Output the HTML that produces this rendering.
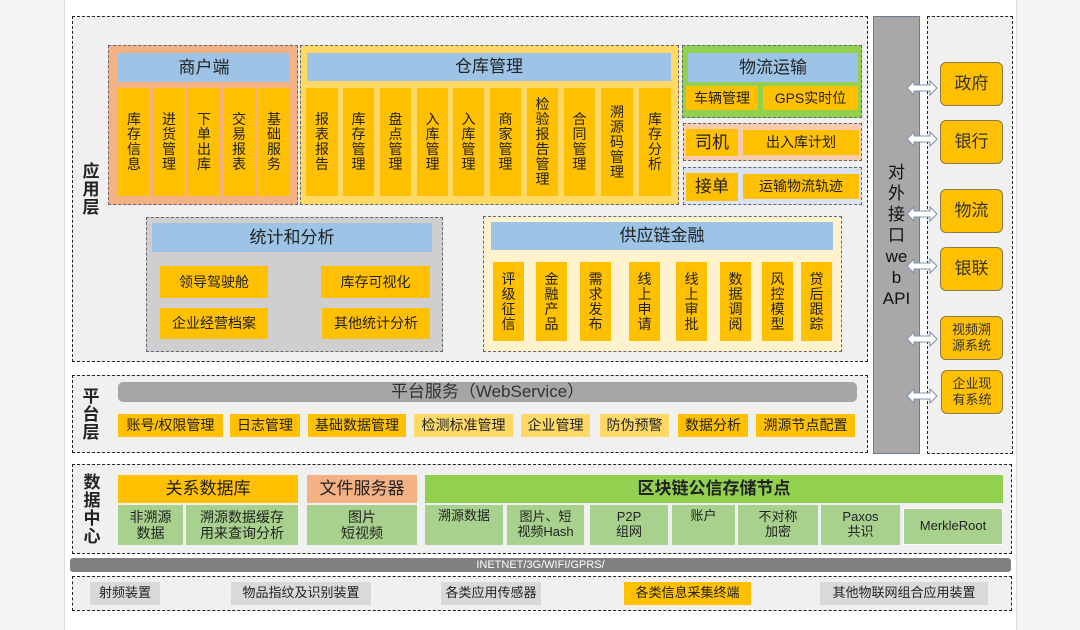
<!DOCTYPE html>
<html><head><meta charset="utf-8"><style>
*{margin:0;padding:0;box-sizing:border-box}
body{width:1080px;height:630px;background:#f4f5f7;position:relative;overflow:hidden;font-family:"Liberation Sans","Noto Sans CJK SC",sans-serif;color:#222}
div{position:absolute}
.c{display:flex;align-items:center;justify-content:center;text-align:center;line-height:1.15}
.d{border:1.5px dashed #222;background:#f0f0f0}
.g{border:1px dashed #667}
.y{background:#ffc000}
.ly{background:#ffd966}
.bl{background:#9dc3e6}
.gr{background:#a9d18e}
.v{font-size:14px;line-height:15px;padding:0 8px;word-break:break-all}
.f14{font-size:14px}
.f13{font-size:13px}
.f16{font-size:17px}
.f17{font-size:17px;font-weight:bold}
.lab{font-size:17px;font-weight:bold;width:20px;line-height:18px;text-align:center}
.ext{background:#ffc000;border:1px solid #8a7a4a;border-radius:6px;font-size:17px;color:#333}
.gray{background:#d9d9d9}
</style></head><body>
<div style="left:64px;top:0;width:953px;height:630px;background:#fff;border-left:1px solid #ddd;border-right:1px solid #ddd"></div>

<!-- App layer -->
<div class="d" style="left:72px;top:16px;width:796px;height:346px"></div>
<div class="lab" style="left:81px;top:163px">应<br>用<br>层</div>

<!-- 商户端 -->
<div class="g" style="left:108px;top:45px;width:190px;height:160px;background:#f4b183"></div>
<div class="c bl f16" style="left:118px;top:53px;width:172px;height:29px">商户端</div>
<div class="c y v" style="left:118px;top:88px;width:32px;height:108px">库存信息</div>
<div class="c y v" style="left:153px;top:88px;width:32px;height:108px">进货管理</div>
<div class="c y v" style="left:188px;top:88px;width:32px;height:108px">下单出库</div>
<div class="c y v" style="left:223px;top:88px;width:32px;height:108px">交易报表</div>
<div class="c y v" style="left:258px;top:88px;width:32px;height:108px">基础服务</div>

<!-- 仓库管理 -->
<div class="g" style="left:300px;top:45px;width:379px;height:160px;background:#ffd966"></div>
<div class="c bl f16" style="left:307px;top:53px;width:364px;height:28px">仓库管理</div>
<div class="c y v" style="left:306px;top:88px;width:32px;height:108px">报表报告</div>
<div class="c y v" style="left:343px;top:88px;width:31px;height:108px">库存管理</div>
<div class="c y v" style="left:380px;top:88px;width:31px;height:108px">盘点管理</div>
<div class="c y v" style="left:417px;top:88px;width:31px;height:108px">入库管理</div>
<div class="c y v" style="left:453px;top:88px;width:31px;height:108px">入库管理</div>
<div class="c y v" style="left:490px;top:88px;width:31px;height:108px">商家管理</div>
<div class="c y v" style="left:527px;top:88px;width:31px;height:108px">检验报告管理</div>
<div class="c y v" style="left:564px;top:88px;width:31px;height:108px">合同管理</div>
<div class="c y v" style="left:601px;top:88px;width:32px;height:108px">溯源码管理</div>
<div class="c y v" style="left:639px;top:88px;width:32px;height:108px">库存分析</div>

<!-- 物流运输 -->
<div class="g" style="left:682px;top:45px;width:180px;height:73px;background:#92d050"></div>
<div class="c bl f16" style="left:688px;top:53px;width:170px;height:29px">物流运输</div>
<div class="c y f14" style="left:686px;top:86px;width:72px;height:24px">车辆管理</div>
<div class="c y f14" style="left:763px;top:86px;width:95px;height:24px">GPS实时位</div>
<div class="g" style="left:683px;top:123px;width:179px;height:38px;background:#f8cbad"></div>
<div class="c y" style="left:686px;top:129px;width:52px;height:27px;font-size:17px">司机</div>
<div class="c y f14" style="left:743px;top:130px;width:116px;height:25px">出入库计划</div>
<div class="g" style="left:683px;top:167px;width:179px;height:38px;background:#dae3f3"></div>
<div class="c y" style="left:686px;top:173px;width:52px;height:28px;font-size:17px">接单</div>
<div class="c y f14" style="left:743px;top:174px;width:116px;height:25px">运输物流轨迹</div>

<!-- 统计和分析 -->
<div class="g" style="left:146px;top:217px;width:297px;height:135px;background:#d0cece"></div>
<div class="c bl f16" style="left:152px;top:223px;width:280px;height:29px">统计和分析</div>
<div class="c y f14" style="left:160px;top:266px;width:108px;height:32px">领导驾驶舱</div>
<div class="c y f14" style="left:321px;top:266px;width:109px;height:32px">库存可视化</div>
<div class="c y f14" style="left:160px;top:308px;width:108px;height:31px">企业经营档案</div>
<div class="c y f14" style="left:322px;top:308px;width:108px;height:31px">其他统计分析</div>

<!-- 供应链金融 -->
<div class="g" style="left:483px;top:216px;width:359px;height:136px;background:#fff2cc"></div>
<div class="c bl f16" style="left:491px;top:222px;width:342px;height:28px">供应链金融</div>
<div class="c y v" style="left:493px;top:262px;width:31px;height:79px">评级征信</div>
<div class="c y v" style="left:536px;top:262px;width:31px;height:79px">金融产品</div>
<div class="c y v" style="left:580px;top:262px;width:31px;height:79px">需求发布</div>
<div class="c y v" style="left:629px;top:262px;width:31px;height:79px">线上申请</div>
<div class="c y v" style="left:676px;top:262px;width:31px;height:79px">线上审批</div>
<div class="c y v" style="left:720px;top:262px;width:31px;height:79px">数据调阅</div>
<div class="c y v" style="left:762px;top:262px;width:31px;height:79px">风控模型</div>
<div class="c y v" style="left:801px;top:262px;width:31px;height:79px">贷后跟踪</div>

<!-- Platform -->
<div class="d" style="left:72px;top:375px;width:796px;height:78px"></div>
<div class="lab" style="left:81px;top:388px">平<br>台<br>层</div>
<div class="c" style="left:118px;top:382px;width:739px;height:20px;background:#a6a6a6;border-radius:5px;font-size:17px;color:#333">平台服务（WebService）</div>
<div class="c y f14" style="left:118px;top:414px;width:105px;height:23px">账号/权限管理</div>
<div class="c y f14" style="left:230px;top:414px;width:70px;height:23px">日志管理</div>
<div class="c y f14" style="left:308px;top:414px;width:98px;height:23px">基础数据管理</div>
<div class="c ly f14" style="left:414px;top:414px;width:99px;height:23px">检测标准管理</div>
<div class="c ly f14" style="left:521px;top:414px;width:69px;height:23px">企业管理</div>
<div class="c ly f14" style="left:600px;top:414px;width:69px;height:23px">防伪预警</div>
<div class="c y f14" style="left:678px;top:414px;width:70px;height:23px">数据分析</div>
<div class="c y f14" style="left:756px;top:414px;width:99px;height:23px">溯源节点配置</div>

<!-- API -->
<div class="c" style="left:873px;top:16px;width:47px;height:438px;background:#a9a7a8;border:1px solid #6b7a99;font-size:17px;line-height:21px;color:#111">对<br>外<br>接<br>口<br>we<br>b<br>API</div>
<div class="d" style="left:927px;top:16px;width:86px;height:438px"></div>
<div class="c ext" style="left:940px;top:62px;width:63px;height:44px">政府</div>
<div class="c ext" style="left:940px;top:120px;width:63px;height:44px">银行</div>
<div class="c ext" style="left:940px;top:189px;width:63px;height:44px">物流</div>
<div class="c ext" style="left:940px;top:247px;width:63px;height:44px">银联</div>
<div class="c ext" style="left:940px;top:316px;width:63px;height:44px;font-size:13px;line-height:16px">视频溯<br>源系统</div>
<div class="c ext" style="left:941px;top:370px;width:62px;height:44px;font-size:13px;line-height:16px">企业现<br>有系统</div>
<svg style="position:absolute;left:905px;top:0" width="36" height="460">
<g fill="#fff" stroke="#7f8fb0" stroke-width="1">
<path d="M2 88 L9 81 L9 85 L25 85 L25 81 L32 88 L25 95 L25 91 L9 91 L9 95 Z"/>
<path d="M2 139 L9 132 L9 136 L25 136 L25 132 L32 139 L25 146 L25 142 L9 142 L9 146 Z"/>
<path d="M2 214 L9 207 L9 211 L25 211 L25 207 L32 214 L25 221 L25 217 L9 217 L9 221 Z"/>
<path d="M2 266 L9 259 L9 263 L25 263 L25 259 L32 266 L25 273 L25 269 L9 269 L9 273 Z"/>
<path d="M2 339 L9 332 L9 336 L25 336 L25 332 L32 339 L25 346 L25 342 L9 342 L9 346 Z"/>
<path d="M2 396 L9 389 L9 393 L25 393 L25 389 L32 396 L25 403 L25 399 L9 399 L9 403 Z"/>
</g></svg>

<!-- Data center -->
<div class="d" style="left:72px;top:464px;width:940px;height:90px"></div>
<div class="lab" style="left:82px;top:474px">数<br>据<br>中<br>心</div>
<div class="c y" style="left:118px;top:475px;width:180px;height:28px;font-size:17px">关系数据库</div>
<div class="c gr f14" style="left:118px;top:505px;width:65px;height:40px">非溯源<br>数据</div>
<div class="c gr f14" style="left:186px;top:505px;width:112px;height:40px">溯源数据缓存<br>用来查询分析</div>
<div class="c" style="left:307px;top:475px;width:110px;height:28px;font-size:17px;background:#f4b183">文件服务器</div>
<div class="c gr f14" style="left:307px;top:505px;width:110px;height:40px">图片<br>短视频</div>
<div class="c f17" style="left:425px;top:475px;width:578px;height:28px;background:#92d050">区块链公信存储节点</div>
<div class="c gr f13" style="left:425px;top:505px;width:78px;height:40px;align-items:flex-start;padding-top:4px">溯源数据</div>
<div class="c gr f13" style="left:507px;top:505px;width:77px;height:40px">图片、短<br>视频Hash</div>
<div class="c gr f13" style="left:590px;top:505px;width:78px;height:40px">P2P<br>组网</div>
<div class="c gr f13" style="left:672px;top:505px;width:63px;height:40px;align-items:flex-start;padding-top:4px">账户</div>
<div class="c gr f13" style="left:738px;top:505px;width:80px;height:40px">不对称<br>加密</div>
<div class="c gr f13" style="left:821px;top:505px;width:79px;height:40px">Paxos<br>共识</div>
<div class="c gr f13" style="left:903px;top:508px;width:100px;height:37px;border:1px solid #fff">MerkleRoot</div>

<div style="left:70px;top:558px;width:941px;height:14px;background:#808080;border-radius:3px"></div>
<div class="c" style="left:70px;top:558px;width:941px;height:14px;color:#fff;font-size:11px">INETNET/3G/WIFI/GPRS/</div>

<!-- bottom -->
<div class="d" style="left:72px;top:576px;width:940px;height:35px"></div>
<div class="c gray f13" style="left:90px;top:582px;width:70px;height:23px">射频装置</div>
<div class="c gray f13" style="left:231px;top:582px;width:140px;height:23px">物品指纹及识别装置</div>
<div class="c gray f13" style="left:441px;top:582px;width:100px;height:23px">各类应用传感器</div>
<div class="c y f13" style="left:624px;top:582px;width:127px;height:23px">各类信息采集终端</div>
<div class="c gray f13" style="left:820px;top:582px;width:168px;height:23px">其他物联网组合应用装置</div>
</body></html>
